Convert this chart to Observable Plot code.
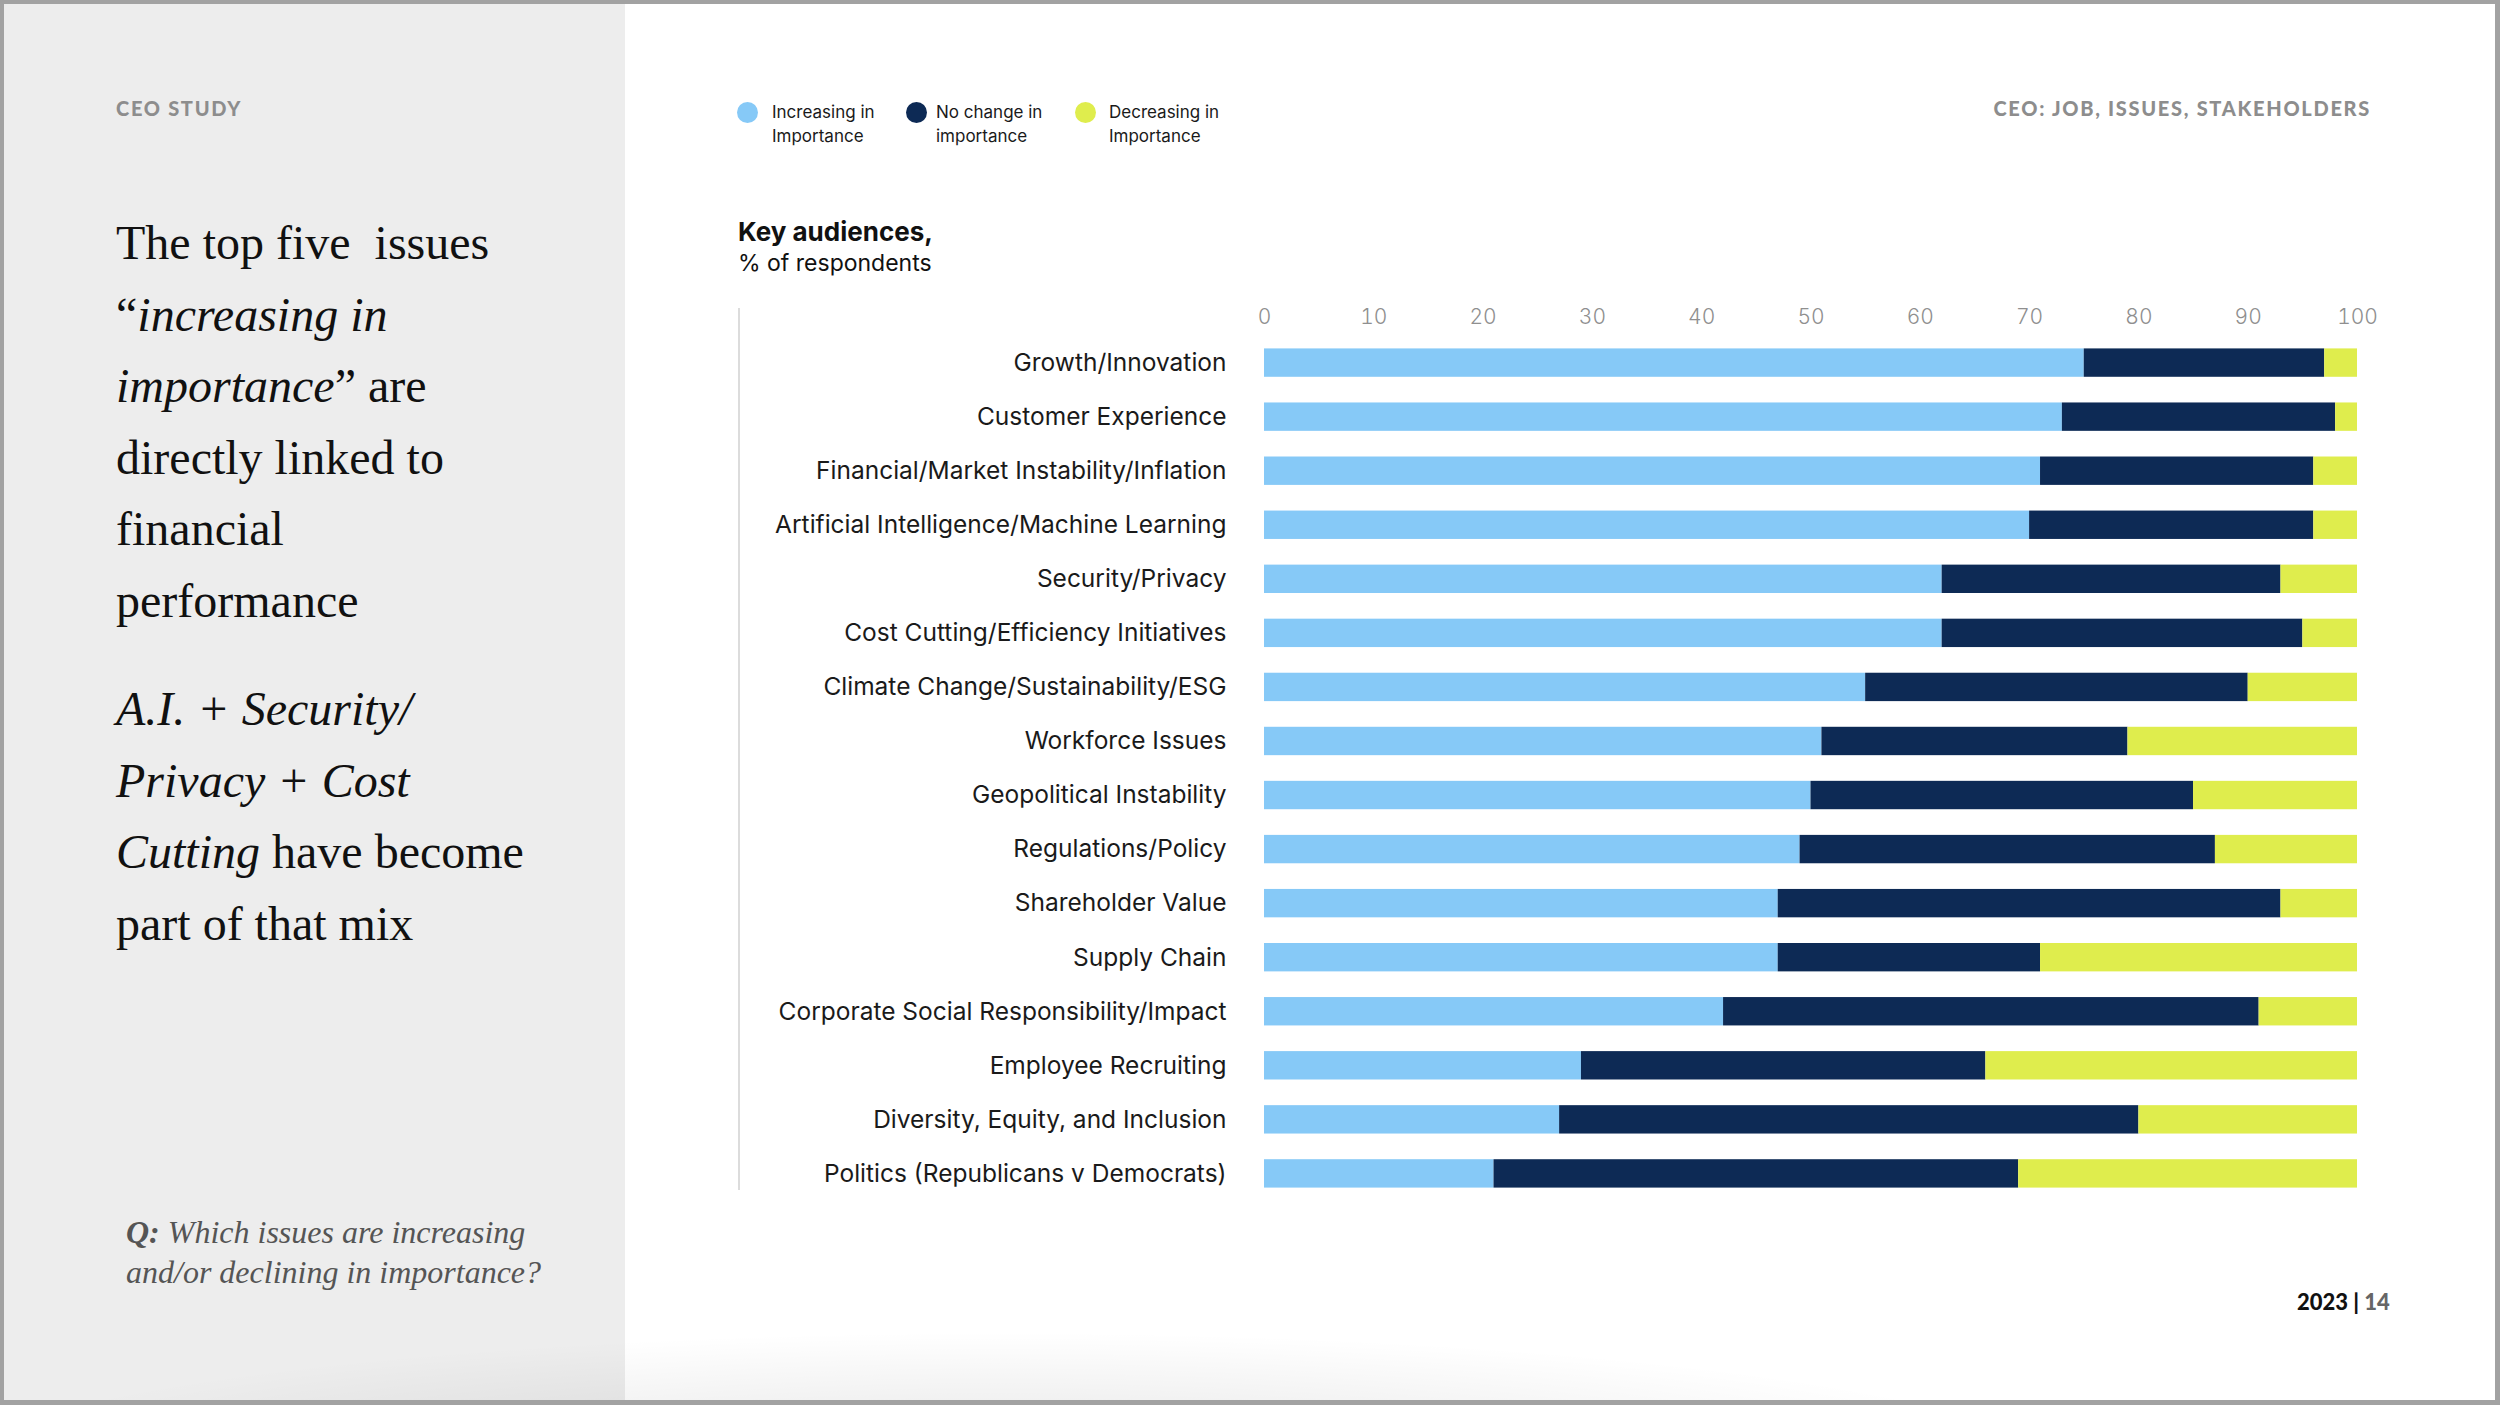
<!DOCTYPE html>
<html>
<head>
<meta charset="utf-8">
<script src="https://cdn.jsdelivr.net/npm/d3@7"></script>
<script src="https://cdn.jsdelivr.net/npm/@observablehq/plot@0.6"></script>
<style>
  html, body { margin: 0; padding: 0; background: #fff; }
  #page { position: relative; width: 2500px; height: 1405px; overflow: hidden; background: #fff; font-family: Inter, "Noto Sans", sans-serif; }
  #frame { position: absolute; left: 0; top: 0; width: 2500px; height: 1405px; box-sizing: border-box; border: 4px solid #a2a2a2; border-right-width: 5px; border-bottom-width: 5px; pointer-events: none; z-index: 10; }
  #leftpanel { position: absolute; left: 0; top: 0; width: 625px; height: 1405px; background: #ededed; }
  #shadow { position: absolute; left: 100px; top: 1330px; width: 2000px; height: 150px; background: radial-gradient(ellipse at 45% 100%, rgba(0,0,0,0.12) 0%, rgba(0,0,0,0.05) 40%, rgba(0,0,0,0) 70%); }
  .kicker { position: absolute; font-family: Lato, sans-serif; font-weight: 900; font-size: 20px; letter-spacing: 1.7px; color: #8d8d8d; white-space: nowrap; line-height: 24px; }
  .serif { position: absolute; left: 116px; font-family: "Liberation Serif", "DejaVu Serif", serif; font-size: 48px; line-height: 71.6px; color: #111; white-space: nowrap; }
  .serif i { font-style: italic; }
  #question { position: absolute; left: 126px; top: 1212px; font-family: "Liberation Serif", serif; font-style: italic; font-size: 32px; line-height: 40px; color: #555; white-space: nowrap; }
  .legend-item { position: absolute; top: 100px; font-size: 17px; line-height: 24px; color: #1a1a1a; white-space: nowrap; }
  .dot { position: absolute; width: 21px; height: 21px; border-radius: 50%; top: 101.5px; }
  #keytitle { position: absolute; left: 738px; top: 217px; font-size: 26px; font-weight: 700; color: #111; line-height: 30px; white-space: nowrap; }
  #keysub { position: absolute; left: 738px; top: 248px; font-size: 23px; color: #111; line-height: 30px; white-space: nowrap; }
  #vrule { position: absolute; left: 738px; top: 308px; width: 1.5px; height: 882px; background: #dcdcdc; }
  #chart { position: absolute; left: 740px; top: 290px; }
  #pagenum { position: absolute; left: 2297px; top: 1289px; font-family: Lato, sans-serif; font-weight: 900; font-size: 22px; color: #111; white-space: nowrap; line-height: 26px; }
  #pagenum span { color: #666; }
</style>
</head>
<body>
<div id="page">
  <div id="leftpanel"></div>
  <div id="shadow"></div>
  <div class="kicker" style="left:116px; top:96px;">CEO STUDY</div>
  <div class="kicker" style="right:129px; top:96px;">CEO: JOB, ISSUES, STAKEHOLDERS</div>

  <div class="serif" style="top:207px;">The top five&nbsp; issues<br>“<i>increasing in</i><br><i>importance</i>” are<br>directly linked to<br>financial<br>performance</div>
  <div class="serif" style="top:673px;"><i>A.I. + Security/</i><br><i>Privacy + Cost</i><br><i>Cutting</i> have become<br>part of that mix</div>
  <div id="question"><b>Q:</b> Which issues are increasing<br>and/or declining in importance?</div>

  <div id="legend"></div>
  <div id="keytitle">Key audiences,</div>
  <div id="keysub">% of respondents</div>
  <div id="vrule"></div>
  <div id="chart"></div>
  <div id="pagenum">2023 | <span>14</span></div>
  <div id="frame"></div>
</div>
<script>
// ---- data ----
const issues = [
  "Growth/Innovation",
  "Customer Experience",
  "Financial/Market Instability/Inflation",
  "Artificial Intelligence/Machine Learning",
  "Security/Privacy",
  "Cost Cutting/Efficiency Initiatives",
  "Climate Change/Sustainability/ESG",
  "Workforce Issues",
  "Geopolitical Instability",
  "Regulations/Policy",
  "Shareholder Value",
  "Supply Chain",
  "Corporate Social Responsibility/Impact",
  "Employee Recruiting",
  "Diversity, Equity, and Inclusion",
  "Politics (Republicans v Democrats)"
];
const increasing = [75, 73, 71, 70, 62, 62, 55, 51, 50, 49, 47, 47, 42, 29, 27, 21];
const noChange   = [22, 25, 25, 26, 31, 33, 35, 28, 35, 38, 46, 24, 49, 37, 53, 48];
const decreasing = [ 3,  2,  4,  4,  7,  5, 10, 21, 15, 13,  7, 29,  9, 34, 20, 31];
const seriesNames = ["Increasing in Importance", "No change in importance", "Decreasing in Importance"];
const legendLines = [["Increasing in", "Importance"], ["No change in", "importance"], ["Decreasing in", "Importance"]];
const seriesColors = ["#86c9f7", "#0d2a55", "#dfed4d"];
const xTicks = [0, 10, 20, 30, 40, 50, 60, 70, 80, 90, 100];

// ---- legend (HTML) ----
const legendDotX = [737, 906, 1075];
const legendTextX = [772, 936, 1109];
const legend = document.getElementById("legend");
seriesNames.forEach((s, i) => {
  const dot = document.createElement("div");
  dot.className = "dot";
  dot.style.left = legendDotX[i] + "px";
  dot.style.background = seriesColors[i];
  legend.appendChild(dot);
  const t = document.createElement("div");
  t.className = "legend-item";
  t.style.left = legendTextX[i] + "px";
  t.innerHTML = legendLines[i].join("<br>");
  legend.appendChild(t);
});

// ---- table ----
const table = [];
issues.forEach((issue, i) => {
  table.push({issue, series: seriesNames[0], value: increasing[i]});
  table.push({issue, series: seriesNames[1], value: noChange[i]});
  table.push({issue, series: seriesNames[2], value: decreasing[i]});
});

const chart = Plot.plot({
  width: 1657,
  height: 923,
  marginLeft: 524,
  marginRight: 40,
  marginTop: 53,
  marginBottom: 20,
  style: {fontFamily: "Inter, 'Noto Sans', sans-serif", background: "transparent", overflow: "visible"},
  x: {domain: [0, 100]},
  y: {domain: issues, paddingInner: 0.475, paddingOuter: 0.1, round: false},
  color: {domain: seriesNames, range: seriesColors},
  marks: [
    Plot.barX(table, Plot.stackX({x: "value", y: "issue", fill: "series", order: null})),
    Plot.axisX({anchor: "top", ticks: xTicks, tickSize: 0, tickPadding: 20, fontSize: 21, color: "#8f8f8f", fontWeight: 300, label: null}),
    Plot.axisY({tickSize: 0, tickPadding: 38, fontSize: 24.5, color: "#1a1a1a", label: null})
  ]
});
document.getElementById("chart").appendChild(chart);
</script>
</body>
</html>
